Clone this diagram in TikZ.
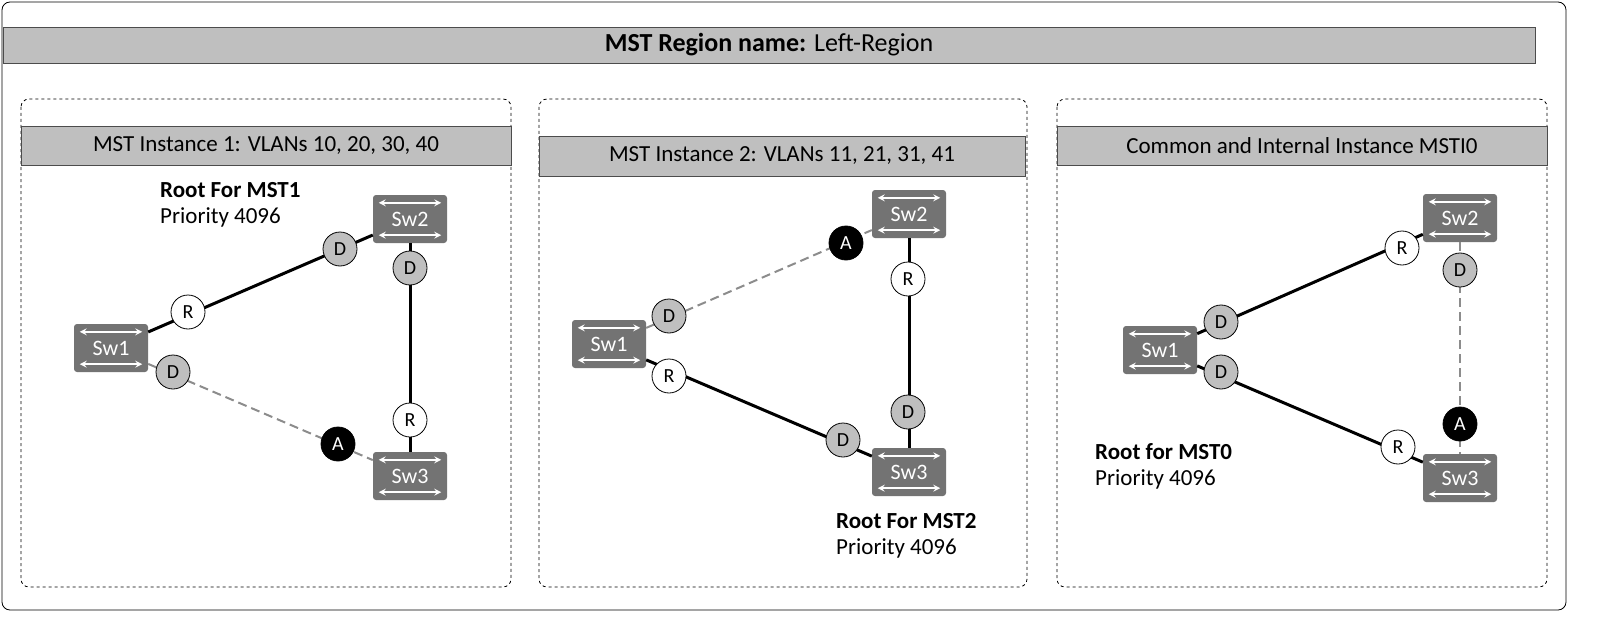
\documentclass[tikz,border=0pt]{standalone}
\usepackage{fontspec}
\setmainfont{Carlito}
\begin{document}
\begin{tikzpicture}[x=1pt,y=-1pt,
  sw/.style={fill=swgray,rounded corners=3pt,minimum width=74pt,minimum height=48pt,inner sep=0pt,text=white,font=\fontsize{22}{22}\selectfont},
  port/.style={circle,draw=black,line width=0.8pt,minimum size=34pt,inner sep=0pt,font=\fontsize{20}{20}\selectfont},
  D/.style={port,fill=portgray},
  R/.style={port,fill=white},
  A/.style={port,fill=black,text=white},
  link/.style={line width=3pt},
  blk/.style={draw=gray!90,dash pattern=on 9pt off 5pt,line width=2pt},
  panel/.style={draw=black,dashed,rounded corners=8pt,line width=0.8pt},
  bar/.style={fill=bargray,draw=black!70,line width=0.8pt},
  lbl/.style={anchor=west,inner sep=0pt,font=\fontsize{23}{23}\selectfont}
]
\definecolor{swgray}{HTML}{737373}
\definecolor{portgray}{HTML}{BFBFBF}
\definecolor{bargray}{HTML}{BFBFBF}
\newcommand{\mysw}[4]{%
  \node[sw] (#1) at (#2,#3) {#4};
  \draw[white,line width=2pt,<->,>=stealth] ([xshift=6pt,yshift=-8pt]#1.north west) -- ([xshift=-6pt,yshift=-8pt]#1.north east);
  \draw[white,line width=2pt,<->,>=stealth] ([xshift=6pt,yshift=8pt]#1.south west) -- ([xshift=-6pt,yshift=8pt]#1.south east);}
\useasboundingbox (0,0) rectangle (1600,623);
\draw[rounded corners=8pt,line width=0.8pt] (2,2) rectangle (1566,610);
\node[bar,minimum width=1532pt,minimum height=36pt,inner sep=0pt,font=\fontsize{26}{26}\selectfont] (title) at (769,45) {\textbf{MST Region name:} Left-Region};
% panels
\draw[panel] (21,99) rectangle (511,587);
\draw[panel] (539,99) rectangle (1027,587);
\draw[panel] (1057,99) rectangle (1547,587);
\node[bar,minimum width=490pt,minimum height=39pt,inner sep=0pt,font=\fontsize{23}{23}\selectfont] (h1) at (266,146) {MST Instance 1: VLANs 10, 20, 30, 40};
\node[bar,minimum width=486pt,minimum height=40pt,inner sep=0pt,font=\fontsize{23}{23}\selectfont] (h2) at (782,156) {MST Instance 2: VLANs 11, 21, 31, 41};
\node[bar,minimum width=490pt,minimum height=39pt,inner sep=0pt,font=\fontsize{23}{23}\selectfont] (h3) at (1302,146) {Common and Internal Instance MSTI0};
% Panel 1
\mysw{a1}{111}{348}{Sw1}
\mysw{a2}{410}{219}{Sw2}
\mysw{a3}{410}{476}{Sw3}
\draw[link] (a1) -- (a2);
\draw[link] (a2) -- (a3);
\draw[blk] (a1) -- (a3);
\node[R] (a1r) at (188,312) {R};
\node[D] (a2d1) at (340,249) {D};
\node[D] (a2d2) at (410,268) {D};
\node[R] (a3r) at (410,420) {R};
\node[D] (a1d) at (173,372) {D};
\node[A] (a3a) at (338,444) {A};
\node[lbl] (t1a) at (160,190) {\textbf{Root For MST1}};
\node[lbl] (t1b) at (160,217) {Priority 4096};
% Panel 2
\mysw{b1}{609}{344}{Sw1}
\mysw{b2}{909}{214}{Sw2}
\mysw{b3}{909}{472}{Sw3}
\draw[blk] (b1) -- (b2);
\draw[link] (b2) -- (b3);
\draw[link] (b1) -- (b3);
\node[D] (b1d) at (669,316) {D};
\node[A] (b2a) at (846,243) {A};
\node[R] (b2r) at (908,279) {R};
\node[D] (b3d1) at (908,412) {D};
\node[R] (b1r) at (669,376) {R};
\node[D] (b3d2) at (843,440) {D};
\node[lbl] (t2a) at (836,521) {\textbf{Root For MST2}};
\node[lbl] (t2b) at (836,548) {Priority 4096};
% Panel 3
\mysw{c1}{1160}{350}{Sw1}
\mysw{c2}{1460}{218}{Sw2}
\mysw{c3}{1460}{478}{Sw3}
\draw[link] (c1) -- (c2);
\draw[blk] (c2) -- (c3);
\draw[link] (c1) -- (c3);
\node[R] (c2r) at (1402,248) {R};
\node[D] (c2d) at (1460,270) {D};
\node[D] (c1d1) at (1221,322) {D};
\node[D] (c1d2) at (1221,372) {D};
\node[R] (c3r) at (1398,447) {R};
\node[A] (c3a) at (1460,424) {A};
\node[lbl] (t3a) at (1095,452) {\textbf{Root for MST0}};
\node[lbl] (t3b) at (1095,479) {Priority 4096};
\end{tikzpicture}
\end{document}
